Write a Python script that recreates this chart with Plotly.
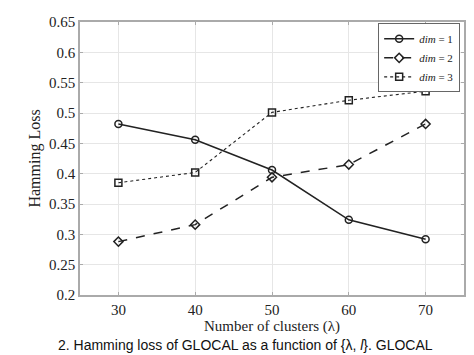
import plotly.graph_objects as go

clusters = [30, 40, 50, 60, 70]
dim1 = [0.482, 0.456, 0.406, 0.324, 0.292]
dim2 = [0.288, 0.316, 0.394, 0.415, 0.482]
dim3 = [0.385, 0.402, 0.501, 0.521, 0.536]
names = ["<i>dim</i> = 1", "<i>dim</i> = 2", "<i>dim</i> = 3"]
y_ticks = [0.2, 0.25, 0.3, 0.35, 0.4, 0.45, 0.5, 0.55, 0.6, 0.65]
y_ticktext = ["0.2", "0.25", "0.3", "0.35", "0.4", "0.45", "0.5", "0.55", "0.6", "0.65"]

serif = "Liberation Serif, Times New Roman, serif"
fig = go.Figure()
styles = [("solid", "circle-open", 1.5), ("dash", "diamond-open", 1.5), ("dot", "square-open", 1.1)]
for vals, name, (dash, sym, w) in zip([dim1, dim2, dim3], names, styles):
    fig.add_trace(go.Scatter(
        x=clusters, y=vals, name=name, mode="lines+markers",
        line=dict(color="#222222", width=w, dash=dash),
        marker=dict(symbol=sym, size=7, color="#222222", line=dict(width=1.5, color="#222222")),
    ))

fig.update_layout(
    width=474, height=355,
    margin=dict(l=72, r=18, t=6, b=68),
    plot_bgcolor="white", paper_bgcolor="white",
    font=dict(family=serif, size=15, color="#222222"),
    showlegend=True,
    legend=dict(x=0.99, y=0.995, xanchor="right", yanchor="top",
                bgcolor="white", bordercolor="#666666", borderwidth=1,
                font=dict(family=serif, size=11), itemwidth=30,
                tracegroupgap=0),
    xaxis=dict(range=[25, 75], tickvals=clusters, ticks="inside", ticklen=3,
               tickcolor="#aaaaaa", showline=True, linecolor="#aaaaaa", linewidth=1.5,
               mirror="ticks", showgrid=True, gridcolor="#e6e6e6", zeroline=False,
               title=dict(text="Number of clusters (λ)", standoff=0, font=dict(size=15)),
               tickfont=dict(size=15)),
    yaxis=dict(range=[0.2, 0.65], tickvals=y_ticks, ticktext=y_ticktext, ticks="inside",
               ticklen=3, tickcolor="#aaaaaa", showline=True, linecolor="#aaaaaa",
               linewidth=1.5, mirror="ticks", showgrid=True, gridcolor="#e6e6e6",
               zeroline=False,
               title=dict(text="Hamming Loss", standoff=4, font=dict(size=16)),
               tickfont=dict(size=15)),
)

fig.add_annotation(
    text="2. Hamming loss of GLOCAL as a function of {λ, <i>l</i>}. GLOCAL",
    xref="paper", yref="paper", x=(237 - 72) / 384, y=-(351 - 289) / 283,
    xanchor="center", yanchor="bottom", showarrow=False,
    font=dict(family="Liberation Sans, Arial, sans-serif", size=14, color="#111111"),
)

fig.write_html("out.html")
